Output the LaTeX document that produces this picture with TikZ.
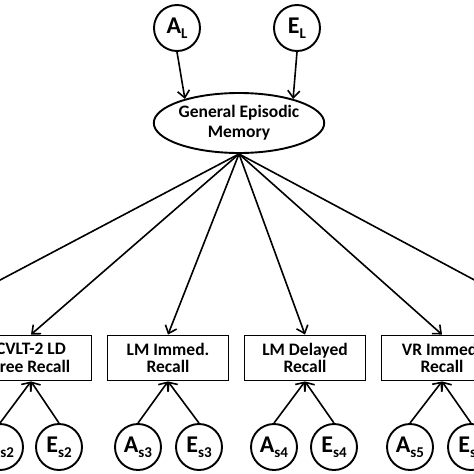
\documentclass[tikz,border=0pt]{standalone}
\usepackage{fontspec}
\setmainfont{Carlito}
\usepackage{tikz}
\usetikzlibrary{shapes,arrows.meta,positioning,calc}
\tikzset{
    factor/.style={ellipse, draw, line width=1.9pt, minimum width=156pt, minimum height=60pt, align=center, inner sep=0pt, font=\fontsize{17.5}{20}\selectfont\bfseries},
    latent/.style={circle, draw, line width=1.9pt, minimum size=46pt, inner sep=0pt, font=\fontsize{24}{24}\selectfont\bfseries},
    measure/.style={rectangle, draw, line width=1.9pt, minimum width=121pt, minimum height=45pt, align=center, inner sep=1pt, font=\fontsize{17.5}{17.5}\selectfont\bfseries},
    line/.style={draw, line width=1.6pt, -{Straight Barb[length=7pt,width=12pt,line width=1.6pt]}}
}
\newcommand{\latsub}[2]{#1\raisebox{-0.4ex}{\fontsize{15}{15}\selectfont #2}}

\begin{document}
\begin{tikzpicture}[x=1pt, y=-1pt]
    \useasboundingbox (0,0) rectangle (474,474);
    \clip (0,0) rectangle (474,474);

    % General factor
    \node [factor] (gem) at (239,123) {General Episodic\\Memory};

    % Latent A and E for the general factor
    \node [latent] (al) at (177,28) {\latsub{A}{L}};
    \node [latent] (el) at (297,28) {\latsub{E}{L}};

    % Measures
    \node [measure] (cvltld) at (31,358) {CVLT-2 LD\\Free Recall};
    \node [measure] (lmimm) at (168,358) {LM Immed.\\Recall};
    \node [measure] (lmdel) at (305,358) {LM Delayed\\Recall};
    \node [measure] (vrimm) at (442,358) {VR Immed.\\Recall};
    \coordinate (offleft) at (-106,336);
    \coordinate (offright) at (579,336);

    % Specific A and E
    \node [latent] (as2) at ([shift={(-31,89)}]cvltld) {\latsub{A}{s2}};
    \node [latent] (es2) at ([shift={(28,89)}]cvltld) {\latsub{E}{s2}};
    \node [latent] (as3) at ([shift={(-30,89)}]lmimm) {\latsub{A}{s3}};
    \node [latent] (es3) at ([shift={(31,89)}]lmimm) {\latsub{E}{s3}};
    \node [latent] (as4) at ([shift={(-31,89)}]lmdel) {\latsub{A}{s4}};
    \node [latent] (es4) at ([shift={(29,89)}]lmdel) {\latsub{E}{s4}};
    \node [latent] (as5) at ([shift={(-32,89)}]vrimm) {\latsub{A}{s5}};
    \node [latent] (es5) at ([shift={(29,89)}]vrimm) {\latsub{E}{s5}};

    % Connections
    \path [line] (al.south) -- (gem.156);
    \path [line] (el.south) -- (gem.24);
    \path [line] (gem.south) -- (offleft);
    \path [line] (gem.south) -- (cvltld.north);
    \path [line] (gem.south) -- (lmimm.north);
    \path [line] (gem.south) -- (lmdel.north);
    \path [line] (gem.south) -- (vrimm.north);
    \path [line] (gem.south) -- (offright);
    \path [line] (as2.north) -- (cvltld.south);
    \path [line] (es2.north) -- (cvltld.south);
    \path [line] (as3.north) -- (lmimm.south);
    \path [line] (es3.north) -- (lmimm.south);
    \path [line] (as4.north) -- (lmdel.south);
    \path [line] (es4.north) -- (lmdel.south);
    \path [line] (as5.north) -- (vrimm.south);
    \path [line] (es5.north) -- (vrimm.south);
\end{tikzpicture}
\end{document}
